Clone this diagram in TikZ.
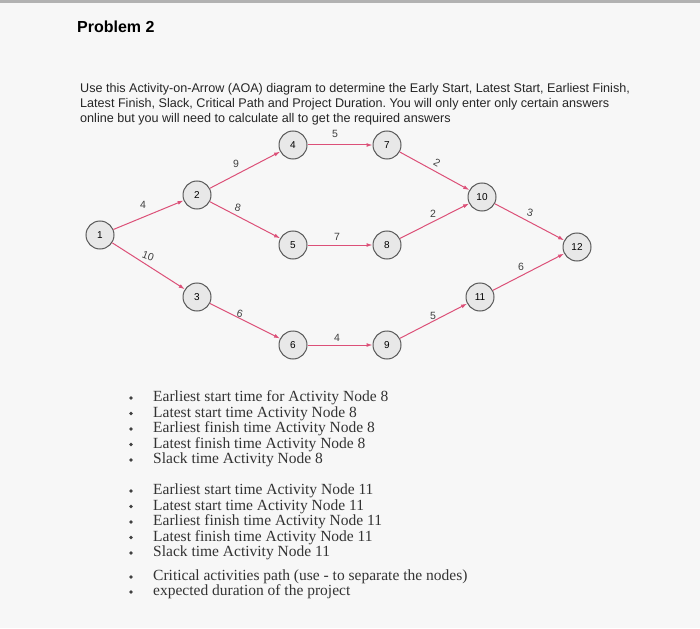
\documentclass[tikz,border=0pt]{standalone}
\usepackage{fontspec}
\setmainfont{Liberation Serif}
\setsansfont{Liberation Sans}
\usetikzlibrary{arrows.meta}
\begin{document}
\begin{tikzpicture}[x=1pt,y=-1pt,
  ev/.style={circle,draw=gray!70!black,fill=gray!18,line width=1pt,minimum size=28pt,inner sep=0pt,font=\sffamily\fontsize{10}{11}\selectfont},
  act/.style={draw={rgb,255:red,220;green,80;blue,120},line width=1pt,-{Latex[length=6pt,width=4pt]}},
  lbl/.style={font=\sffamily\fontsize{10.5}{11}\selectfont,text=black!75},
  para/.style={anchor=west,inner sep=0pt,font=\sffamily\fontsize{12.6}{14}\selectfont,text=black!85},
  item/.style={anchor=west,inner sep=0pt,font=\rmfamily\fontsize{15.5}{16}\selectfont,text=black!80}]
\fill[gray!6] (0,0) rectangle (700,628);
\fill[gray!60] (0,0) rectangle (700,3);
\useasboundingbox (0,0) rectangle (700,628);
\node[anchor=west,inner sep=0pt,font=\sffamily\bfseries\fontsize{16}{18}\selectfont] (title) at (77,27) {Problem 2};
\node[para] (p1) at (80,89) {Use this Activity-on-Arrow (AOA) diagram to determine the Early Start, Latest Start, Earliest Finish,};
\node[para] (p2) at (80,104) {Latest Finish, Slack, Critical Path and Project Duration.\ You will only enter only certain answers};
\node[para] (p3) at (80,119) {online but you will need to calculate all to get the required answers};
\node[ev] (n1) at (100,235) {1};
\node[ev] (n2) at (197,195) {2};
\node[ev] (n3) at (197,297) {3};
\node[ev] (n4) at (293,145) {4};
\node[ev] (n5) at (293,245) {5};
\node[ev] (n6) at (293,345) {6};
\node[ev] (n7) at (387,145) {7};
\node[ev] (n8) at (387,245) {8};
\node[ev] (n9) at (387,345) {9};
\node[ev] (n10) at (482,197) {10};
\node[ev] (n11) at (480,297) {11};
\node[ev] (n12) at (577,247) {12};
\draw[act] (n1)--(n2); \draw[act] (n1)--(n3);
\draw[act] (n2)--(n4); \draw[act] (n2)--(n5);
\draw[act] (n3)--(n6);
\draw[act] (n4)--(n7); \draw[act] (n5)--(n8); \draw[act] (n6)--(n9);
\draw[act] (n7)--(n10); \draw[act] (n8)--(n10); \draw[act] (n9)--(n11);
\draw[act] (n10)--(n12); \draw[act] (n11)--(n12);
\node[lbl] (l12) at (143,205) {4};
\node[lbl,rotate=-20] (l13) at (148,256) {10};
\node[lbl] (l24) at (236,164) {9};
\node[lbl,rotate=-15] (l25) at (238,208) {8};
\node[lbl,rotate=-15] (l36) at (240,314) {6};
\node[lbl] (l47) at (335,134) {5};
\node[lbl] (l58) at (337,237) {7};
\node[lbl] (l69) at (337,338) {4};
\node[lbl,rotate=-30] (l710) at (437,163) {2};
\node[lbl] (l810) at (433,214) {2};
\node[lbl] (l911) at (433,316) {5};
\node[lbl,rotate=-15] (l1012) at (530,213) {3};
\node[lbl] (l1112) at (521,267) {6};
\foreach \y/\t [count=\i] in {398/Earliest start time for Activity Node 8,413.5/Latest start time Activity Node 8,429/Earliest finish time Activity Node 8,444.5/Latest finish time Activity Node 8,460/Slack time Activity Node 8,
 491/Earliest start time Activity Node 11,506.5/Latest start time Activity Node 11,522/Earliest finish time Activity Node 11,537.5/Latest finish time Activity Node 11,553/Slack time Activity Node 11,
 577/Critical activities path (use - to separate the nodes),592/expected duration of the project}{
  \node[item] (it\i) at (153,\y) {\t};
  \fill[black!75] (131,\y) circle (1.8);
}
\end{tikzpicture}
\end{document}
